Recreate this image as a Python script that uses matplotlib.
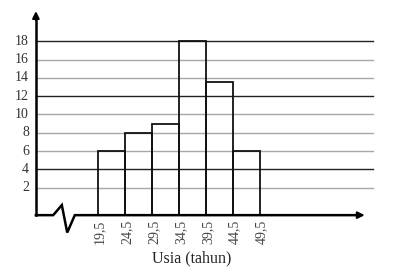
import matplotlib.pyplot as plt
import numpy as np

# histogram data
edges = [19.5, 24.5, 29.5, 34.5, 39.5, 44.5, 49.5]
freq = [6, 8, 9, 18, 13.5, 6]
edge_labels = ['19,5', '24,5', '29,5', '34,5', '39,5', '44,5', '49,5']
y_ticks = [2, 4, 6, 8, 10, 12, 14, 16, 18]
dark_grid = [4, 12, 18]

fig = plt.figure(figsize=(3.97, 2.74), dpi=100)
ax = fig.add_axes([0, 0, 1, 1])
ax.set_xlim(1.35, 74.87)
ax.set_ylim(-7.43, 22.51)
ax.axis('off')

base = -1.0
x_axis = 8.0
serif = 'Liberation Serif'

# horizontal grid lines
for t in y_ticks:
    if t in dark_grid:
        ax.plot([x_axis, 70.4], [t, t], color='#222222', lw=1.0, zorder=1)
    else:
        ax.plot([x_axis, 70.4], [t, t], color='#a8a8a8', lw=1.0, zorder=1)
    ax.text(6.7, t, str(t), ha='right', va='center', fontsize=10,
            family=serif, color='#333333')

# bars
widths = np.diff(edges)
heights = np.array(freq) - base
ax.bar(edges[:-1], heights, width=widths, bottom=base, align='edge',
       facecolor='none', edgecolor='#111111', linewidth=1.3, zorder=3)

# y axis with arrow
ax.plot([x_axis, x_axis], [base, 20.6], color='black', lw=1.8, zorder=4)
ax.annotate('', xy=(x_axis, 21.6), xytext=(x_axis, 20.0),
            arrowprops=dict(arrowstyle='-|>', color='black', lw=1.5,
                            mutation_scale=10))

# x axis with zigzag break and arrow
zx = [x_axis, 11.2, 12.8, 13.8, 15.2, 68.0]
zy = [base, base, 0.1, -2.9, base, base]
ax.plot(zx, zy, color='black', lw=1.8, zorder=4, solid_joinstyle='miter')
ax.annotate('', xy=(69.4, base), xytext=(67.5, base),
            arrowprops=dict(arrowstyle='-|>', color='black', lw=1.5,
                            mutation_scale=10))

# x tick labels
for e, lab in zip(edges, edge_labels):
    ax.text(e + 0.3, base - 0.5, lab, rotation=90, ha='center', va='top',
            fontsize=10, family=serif, color='#444444')

ax.text(36.8, -5.7, 'Usia (tahun)', ha='center', va='center',
        fontsize=11.5, family=serif, color='#222222')

plt.savefig('out.png', dpi=100)
plt.close()
